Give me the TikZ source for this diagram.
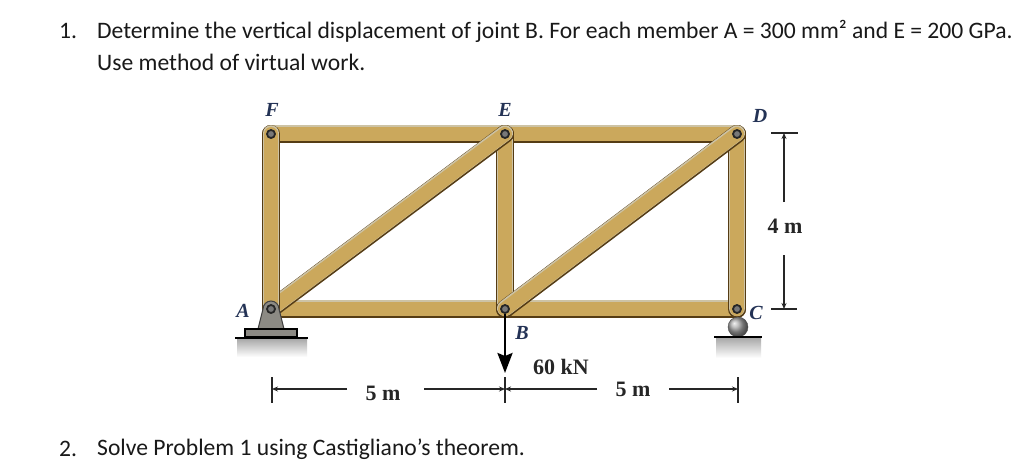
\documentclass[tikz,border=0pt]{standalone}
\usepackage{fontspec}
\setmainfont{Carlito}
\newfontfamily\lab{Liberation Serif}
\usetikzlibrary{arrows.meta,shadings}
\definecolor{tan}{RGB}{203,168,92}
\definecolor{tandark}{RGB}{85,60,20}
\definecolor{tanlight}{RGB}{205,195,165}
\definecolor{lblue}{RGB}{35,50,85}
\definecolor{plategray}{RGB}{140,138,132}
\definecolor{pingray}{RGB}{120,120,120}
\definecolor{shadowgray}{RGB}{165,165,165}
\tikzset{
  x=1pt,y=-1pt,
  joint/.style={circle,inner sep=0pt,minimum size=8pt,draw=black!85,line width=1.8pt,fill=pingray},
  para/.style={anchor=west,inner sep=0pt,font=\fontsize{23.6}{26}\selectfont,text=black!90},
  letter/.style={font=\lab\bfseries\itshape\fontsize{20}{22}\selectfont,text=lblue,inner sep=0pt},
  dimtext/.style={font=\lab\bfseries\fontsize{22}{24}\selectfont,text=black!85,inner sep=0pt},
  dim/.style={draw=black!85,line width=1.2pt,-{Stealth[length=6pt,width=5pt]}},
  tick/.style={draw=black!85,line width=1.2pt},
  ground/.style={draw=black,line width=1.8pt},
  groundshade/.style={top color=shadowgray,bottom color=white,draw=none},
}
\newcommand{\member}[2]{%
  \draw[tandark,line width=18pt,line cap=round] (#1) -- (#2);
  \draw[tanlight,line width=16pt,line cap=round,transform canvas={yshift=0.8pt}] (#1) -- (#2);
  \draw[tan,line width=14pt,line cap=round] (#1) -- (#2);
}
\begin{document}
\begin{tikzpicture}
\useasboundingbox (0,0) rectangle (1024,466);
\fill[white] (0,0) rectangle (1024,466);
\node[para] (n1) at (59,31) {1.};
\node[para] (t1) at (97,31) {Determine the vertical displacement of joint B. For each member A = 300 mm² and E = 200 GPa.};
\node[para] (t2) at (97,62) {Use method of virtual work.};
\node[para] (n2) at (59,449) {2.};
\node[para] (t3) at (97,449) {Solve Problem 1 using Castigliano’s theorem.};
% joints
\coordinate (F) at (271,134);
\coordinate (E) at (505,134);
\coordinate (D) at (737,134);
\coordinate (A) at (271,309);
\coordinate (B) at (505,309);
\coordinate (C) at (737,309);
% ground shadows
\shade[groundshade] (237,338) rectangle (307,357);
\shade[groundshade] (716,337) rectangle (761,358);
% members
\member{B}{C}
\member{A}{B}
\member{F}{E}
\member{E}{D}
\member{E}{B}
\member{D}{C}
\member{A}{E}
\member{B}{D}
\member{F}{A}
% support A
\draw[black!75,fill=plategray,line width=1pt] (258,329) -- (263,309) arc (180:360:8) -- (284,329) -- cycle;
\filldraw[draw=black,fill=plategray,line width=1.2pt] (245,337) -- (245,329) -- (297,329) -- (297,337) -- cycle;
\coordinate (gAl) at (235,338);
\coordinate (gAr) at (308,338);
\draw[ground] (gAl) -- (gAr);
% support C
\shade[ball color=gray!70,draw=black!70] (738,327) circle (10);
\coordinate (gCl) at (714,337);
\coordinate (gCr) at (762,337);
\draw[ground] (gCl) -- (gCr);
% pins
\foreach \p in {F,E,D,A,B,C} \node[joint] (pin\p) at (\p) {};
% load
\coordinate (tip) at (505,373);
\draw[black,line width=2.6pt,-{Stealth[length=20pt,width=15pt,inset=3pt]}] (pinB) -- (tip);
% labels
\node[letter] (lF) at (272,110) {F};
\node[letter] (lE) at (505,110) {E};
\node[letter] (lD) at (760,116) {D};
\node[letter] (lA) at (243,311) {A};
\node[letter] (lB) at (522,333) {B};
\node[letter] (lC) at (756,313) {C};
\node[dimtext] (f) at (561,367) {60 kN};
\node[dimtext] (d1) at (383,393) {5 m};
\node[dimtext] (d2) at (633,389) {5 m};
\node[dimtext] (d3) at (785,226) {4 m};
% dimension lines
\coordinate (tL1) at (272,377); \coordinate (tL2) at (272,403);
\coordinate (tM1) at (505,377); \coordinate (tM2) at (505,403);
\coordinate (tR1) at (738,377); \coordinate (tR2) at (738,403);
\coordinate (mL) at (272,389); \coordinate (mM) at (505,389); \coordinate (mR) at (738,389);
\draw[tick] (tL1) -- (tL2);
\draw[tick] (tM1) -- (tM2);
\draw[tick] (tR1) -- (tR2);
\coordinate (a1) at (347,389); \coordinate (a2) at (424,389);
\coordinate (a3) at (597,389); \coordinate (a4) at (669,389);
\draw[dim] (a1) -- (mL);
\draw[dim] (a2) -- (mM);
\draw[dim] (a3) -- (mM);
\draw[dim] (a4) -- (mR);
\coordinate (vt1) at (771,133); \coordinate (vt2) at (798,133);
\coordinate (vb1) at (771,309); \coordinate (vb2) at (797,309);
\draw[tick] (vt1) -- (vt2);
\draw[tick] (vb1) -- (vb2);
\coordinate (vT) at (784,133); \coordinate (vB) at (784,309);
\coordinate (v1) at (784,202); \coordinate (v2) at (784,255);
\draw[dim] (v1) -- (vT);
\draw[dim] (v2) -- (vB);
\end{tikzpicture}
\end{document}
